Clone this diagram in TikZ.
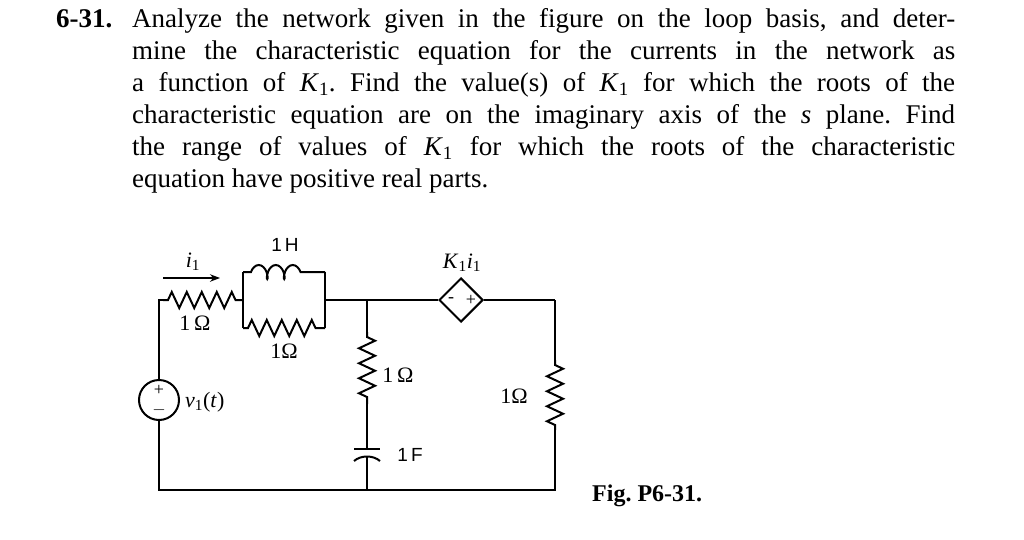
\documentclass[tikz,border=0pt]{standalone}
\usepackage{fontspec}
\setmainfont{Liberation Serif}
\newfontfamily\sansf{Liberation Sans}
\usetikzlibrary{shapes.geometric,decorations.pathmorphing,arrows.meta}
\newcommand{\Ki}{\textit{K}\textsubscript{1}}
\begin{document}
\frenchspacing
\begin{tikzpicture}[x=1pt,y=-1pt,
  wire/.style={line width=2pt},
  res/.style={wire,decorate,decoration={zigzag,amplitude=8pt,segment length=15pt,pre length=5pt,post length=5pt}},
  ind/.style={wire,decorate,decoration={coil,amplitude=7pt,segment length=17pt,aspect=0.5,pre length=8pt,post length=8pt}},
  lbl/.style={font=\fontsize{22}{24}\selectfont,inner sep=1pt}]
\useasboundingbox (0,0) rectangle (1024,540);
\fill[white] (0,0) rectangle (1024,540);
% text
\node[anchor=base west,inner sep=0,font=\fontsize{27}{32}\selectfont\bfseries] (num) at (56,28) {6-31.};
\node[anchor=north west,inner sep=0,text width=823pt,align=justify,font=\fontsize{27}{32}\selectfont] (para) at (132,8)
{Analyze the network given in the figure on the loop basis, and deter-\linebreak
mine the characteristic equation for the currents in the network as\linebreak
a function of \Ki. Find the value(s) of \Ki{} for which the roots of the\linebreak
characteristic equation are on the imaginary axis of the \textit{s} plane. Find\linebreak
the range of values of \Ki{} for which the roots of the characteristic\linebreak
equation have positive real parts.};
\node[anchor=base west,inner sep=0,font=\fontsize{24}{26}\selectfont\bfseries] (fig) at (592,501) {Fig. P6-31.};
% coordinates
\coordinate (tl) at (159,300);
\coordinate (r1a) at (163,300);
\coordinate (r1b) at (243,300);
\coordinate (pt1) at (243,272);
\coordinate (pt2) at (325,272);
\coordinate (pb1) at (243,328);
\coordinate (pb2) at (325,328);
\coordinate (n2) at (325,300);
\coordinate (mid) at (367,300);
\coordinate (tr) at (555,300);
\coordinate (bl) at (159,490);
\coordinate (bm) at (367,490);
\coordinate (br) at (555,490);
\node[draw,wire,circle,minimum size=40pt,inner sep=0] (src) at (159,400) {};
\node[font=\fontsize{18}{18}\selectfont] (sp) at (159,390) {+};
\node[font=\fontsize{18}{18}\selectfont] (sm) at (159,410) {$-$};
\node[draw,wire,diamond,minimum size=44pt,inner sep=0] (dep) at (461,300) {};
\node[font=\fontsize{18}{18}\selectfont] (dm) at (451,300) {-};
\node[font=\fontsize{18}{18}\selectfont] (dp) at (471,300) {+};
% wires
\draw[wire] (src.north) -- (tl) -- (r1a);
\draw[res] (r1a) -- (r1b);
\draw[wire] (pb1) -- (pt1);
\draw[wire] (pb2) -- (pt2);
\draw[ind] (pt1) -- (pt2);
\draw[res] (pb1) -- (pb2);
\draw[wire] (n2) -- (dep.west);
\draw[wire] (dep.east) -- (tr);
\coordinate (mr1) at (367,332);
\coordinate (mr2) at (367,404);
\coordinate (c1) at (367,449);
\coordinate (c2) at (367,456);
\draw[wire] (mid) -- (mr1);
\draw[res] (mr1) -- (mr2);
\draw[wire] (mr2) -- (c1);
\draw[wire] (354,449) -- (380,449);
\draw[wire] (354,461) .. controls (361,455) and (373,455) .. (380,461);
\draw[wire] (c2) -- (bm);
\coordinate (rr1) at (555,360);
\coordinate (rr2) at (555,430);
\draw[wire] (tr) -- (rr1);
\draw[res] (rr1) -- (rr2);
\draw[wire] (rr2) -- (br) -- (bl) -- (src.south);
% labels
\coordinate (a1) at (163,278);
\coordinate (a2) at (220,278);
\draw[line width=1.4pt,-{Stealth[length=10pt]}] (a1) -- (a2);
\node[lbl] (li) at (193,262) {\textit{i}\textsubscript{1}};
\node[lbl,font=\sansf\fontsize{19}{20}\selectfont] (lh) at (285,245) {1\,H};
\node[lbl] (lr1) at (195,323) {1\,Ω};
\node[lbl] (lr2) at (284,351) {1Ω};
\node[lbl] (lr3) at (398,375) {1\,Ω};
\node[lbl,font=\sansf\fontsize{19}{20}\selectfont] (lc) at (410,455) {1\,F};
\node[lbl] (lr4) at (514,396) {1Ω};
\node[lbl,anchor=west] (lv) at (184,402) {\textit{v}\textsubscript{1}(\textit{t})};
\node[lbl] (lk) at (462,263) {\Ki\textit{i}\textsubscript{1}};
\end{tikzpicture}
\end{document}
